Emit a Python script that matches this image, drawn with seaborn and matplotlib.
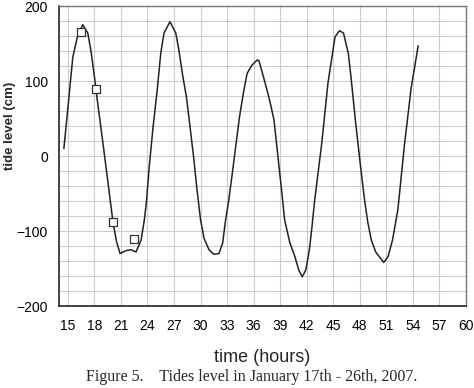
import matplotlib
matplotlib.use('Agg')
import matplotlib.pyplot as plt
import seaborn as sns
import numpy as np
import pandas as pd
from matplotlib.ticker import MultipleLocator

# tide curve (hours, cm)
hours = [14.55, 15.1, 15.56, 16.12, 16.69, 17.25, 17.6, 18.0, 18.3, 19.0,
         19.5, 20.1, 20.5, 20.9, 21.6, 22.15, 22.7, 23.28, 23.65, 23.9,
         24.2, 24.6, 25.1, 25.5, 25.87, 26.54, 27.2, 27.55, 28.0, 28.4,
         28.8, 29.2, 29.6, 30.0, 30.4, 30.96, 31.5, 32.08, 32.5, 32.8,
         33.2, 33.6, 34.0, 34.4, 34.9, 35.26, 35.8, 36.4, 36.6, 37.1,
         37.6, 37.97, 38.3, 39.2, 39.5, 40.1, 40.66, 41.1, 41.5, 41.9,
         42.3, 42.6, 42.9, 43.7, 44.4, 44.8, 45.2, 45.7, 46.16, 46.7,
         47.0, 47.5, 48.0, 48.5, 48.9, 49.3, 49.8, 50.2, 50.7, 51.2,
         51.7, 52.3, 53.05, 53.8, 54.6]
level = [10, 76, 132, 161, 175, 164, 141, 106, 77, 14,
         -32, -88, -114, -130, -126, -125, -128, -112, -85, -59,
         -14, 35, 88, 137, 164, 179, 164, 141, 106, 79,
         40, 0, -45, -85, -110, -125, -131, -130, -116, -88,
         -58, -22, 15, 52, 88, 110, 121, 128, 127, 106,
         84, 66, 48, -50, -85, -116, -134, -152, -161, -152,
         -125, -94, -59, 17, 97, 128, 159, 167, 164, 137,
         106, 48, -5, -55, -88, -112, -128, -134, -142, -134,
         -112, -72, 15, 90, 147]

# measured points (square markers)
obs_hours = [16.5, 18.15, 20.1, 22.45]
obs_level = [165, 90, -88, -110]

curve = pd.DataFrame({'time': hours, 'level': level})
obs = pd.DataFrame({'time': obs_hours, 'level': obs_level})

sns.set_theme(style='white')
plt.rcParams['font.family'] = ['Liberation Sans', 'DejaVu Sans']

fig = plt.figure(figsize=(4.74, 3.88), dpi=100)
ax = fig.add_axes([0.1245, 0.2113, 0.8585, 0.7732])

sns.lineplot(data=curve, x='time', y='level', ax=ax, color='#222222',
             linewidth=1.1, sort=False)
sns.scatterplot(data=obs, x='time', y='level', ax=ax, marker='s', s=30,
                facecolor='white', edgecolor='#333333', linewidth=0.9, zorder=5)

ax.set_xlim(14, 60)
ax.set_ylim(-200, 200)
ax.yaxis.set_major_locator(MultipleLocator(100))
ax.yaxis.set_minor_locator(MultipleLocator(20))
ax.set_xticks(np.arange(15, 61, 3))

ax.grid(True, which='major', axis='x', color='#cccccc', linewidth=0.8)
ax.grid(True, which='both', axis='y', color='#cccccc', linewidth=0.8)
ax.set_axisbelow(True)

ax.tick_params(axis='both', which='both', direction='in', color='#222222',
               labelsize=10, labelcolor='black')
ax.tick_params(axis='x', which='major', length=5, pad=9)
ax.tick_params(axis='y', which='major', length=5, pad=8)
ax.tick_params(axis='y', which='minor', length=4)

for side in ['left', 'bottom']:
    ax.spines[side].set_color('#222222')
    ax.spines[side].set_linewidth(1.2)
for side in ['top', 'right']:
    ax.spines[side].set_color('#777777')
    ax.spines[side].set_linewidth(1.0)

ax.set_xlabel('time (hours)', fontsize=13, labelpad=12)
ax.set_ylabel('tide level (cm)', fontsize=9.5, fontweight='bold')
ax.yaxis.set_label_coords(-0.105, 0.6)

fig.text(0.53, 0.008, 'Figure 5.    Tides level in January 17th - 26th, 2007.',
         ha='center', va='bottom', fontsize=11.5, family='Liberation Serif')

plt.savefig('out.png', dpi=100)
plt.close()
